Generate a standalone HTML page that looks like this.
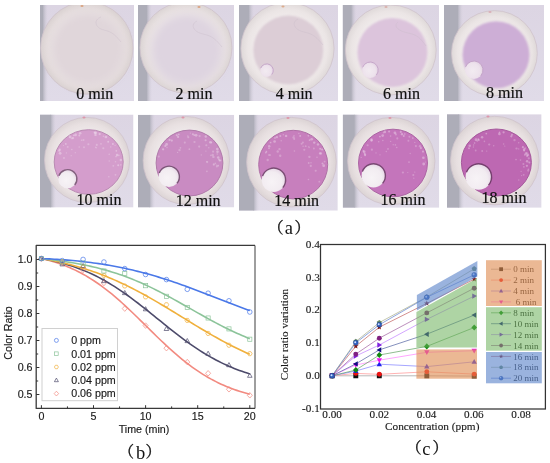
<!DOCTYPE html>
<html><head><meta charset="utf-8"><style>
html,body{margin:0;padding:0;background:#fff;}
body{width:550px;height:463px;overflow:hidden;}
svg{display:block;}
.pl{font-family:"Liberation Serif","Noto Serif CJK SC",serif;font-size:16px;fill:#111;stroke:#111;stroke-width:0.2px;}
.tb{font-family:"Liberation Sans",sans-serif;font-size:10.7px;fill:#1a1a1a;stroke:#1a1a1a;stroke-width:0.15px;}
.tc{font-family:"Liberation Serif",serif;font-size:11.2px;fill:#1a1a1a;stroke:#1a1a1a;stroke-width:0.12px;}
.tl{font-family:"Liberation Serif",serif;font-size:9px;fill:#222;}
.capp{font-family:"Liberation Serif","Noto Serif CJK SC",serif;font-size:15.6px;fill:#111;stroke:#111;stroke-width:0.35px;}
.capl{font-family:"Liberation Serif",serif;font-size:18.5px;fill:#111;}
</style></head><body>
<svg width="550" height="463" viewBox="0 0 550 463">
<defs>
<linearGradient id="stripe" x1="0" x2="1" y1="0" y2="0"><stop offset="0" stop-color="#adadb8"/><stop offset="1" stop-color="#dcd6e4" stop-opacity="0"/></linearGradient>
<linearGradient id="bgv" x1="0" x2="0" y1="0" y2="1"><stop offset="0" stop-color="#dcd5e3"/><stop offset="1" stop-color="#e0dbe8"/></linearGradient>
<radialGradient id="bubt" cx="0.42" cy="0.55" r="0.6"><stop offset="0" stop-color="#f2ebf1"/><stop offset="0.7" stop-color="#ede2ec"/><stop offset="1" stop-color="#e2d0e2"/></radialGradient>
<radialGradient id="bubg" cx="0.42" cy="0.58" r="0.6"><stop offset="0" stop-color="#f7f3f6"/><stop offset="0.7" stop-color="#f2ecf1"/><stop offset="1" stop-color="#e6d6e6"/></radialGradient>
<filter id="bl3" x="-100%" y="-100%" width="300%" height="300%"><feGaussianBlur stdDeviation="0.4"/></filter>
<filter id="bl4" x="-20%" y="-20%" width="140%" height="140%"><feGaussianBlur stdDeviation="1.1"/></filter>
<filter id="bl2" x="-20%" y="-20%" width="140%" height="140%"><feGaussianBlur stdDeviation="4"/></filter>
<filter id="bl" x="-5%" y="-5%" width="110%" height="110%"><feGaussianBlur stdDeviation="0.55"/></filter>
<clipPath id="cp0"><rect x="40" y="5" width="94.0" height="96.0"/></clipPath>
<clipPath id="cp1"><rect x="138" y="5" width="96.0" height="96.0"/></clipPath>
<clipPath id="cp2"><rect x="239" y="5" width="99.0" height="96.0"/></clipPath>
<clipPath id="cp3"><rect x="342.6" y="5" width="96.4" height="96.0"/></clipPath>
<clipPath id="cp4"><rect x="444" y="5" width="100.0" height="96.0"/></clipPath>
<clipPath id="cp5"><rect x="40" y="114.5" width="93.5" height="93.1"/></clipPath>
<clipPath id="cp6"><rect x="138" y="114.8" width="96.2" height="92.7"/></clipPath>
<clipPath id="cp7"><rect x="239" y="114.8" width="98.8" height="95.9"/></clipPath>
<clipPath id="cp8"><rect x="342.7" y="114.5" width="96.6" height="93.3"/></clipPath>
<clipPath id="cp9"><rect x="447" y="114.2" width="94.6" height="93.6"/></clipPath>
</defs>
<g clip-path="url(#cp0)">
<rect x="40" y="5" width="94.0" height="96.0" fill="url(#bgv)"/>
<rect x="40" y="5" width="3" height="96.0" fill="#adadb8"/>
<rect x="42.5" y="5" width="6" height="96.0" fill="url(#stripe)"/>
<g filter="url(#bl)">
<radialGradient id="rg0" cx="0.5" cy="0.5" r="0.5"><stop offset="0.7" stop-color="#ebe5e5"/><stop offset="0.86" stop-color="#e5dddd"/><stop offset="1" stop-color="#d9d1d1"/></radialGradient>
<ellipse cx="86.8" cy="48" rx="46.2" ry="46.2" fill="url(#rg0)" stroke="#cfc3cc" stroke-width="0.8"/>
<ellipse cx="88" cy="49" rx="37" ry="37" fill="#e0d6da" filter="url(#bl2)"/>
</g>
<g filter="url(#bl)">
</g>
<path d="M101,17 C93,20 95,28 104,30 S116,36 121,42" fill="none" stroke="#c9bcc8" stroke-width="0.7" opacity="0.55" filter="url(#bl3)"/>
<ellipse cx="82" cy="6" rx="1.6" ry="1" fill="#d9996e" opacity="0.8" filter="url(#bl3)"/>
<text x="76.3" y="98.6" class="pl">0 min</text>
</g>
<g clip-path="url(#cp1)">
<rect x="138" y="5" width="96.0" height="96.0" fill="url(#bgv)"/>
<rect x="138" y="5" width="9" height="96.0" fill="#adadb8"/>
<rect x="146.5" y="5" width="6" height="96.0" fill="url(#stripe)"/>
<g filter="url(#bl)">
<radialGradient id="rg1" cx="0.5" cy="0.5" r="0.5"><stop offset="0.7" stop-color="#ede7e7"/><stop offset="0.86" stop-color="#e7e0e0"/><stop offset="1" stop-color="#dbd4d4"/></radialGradient>
<ellipse cx="186" cy="47.6" rx="46" ry="45.5" fill="url(#rg1)" stroke="#cfc3cc" stroke-width="0.8"/>
<ellipse cx="187" cy="50" rx="36" ry="36" fill="#ded4e0" filter="url(#bl2)"/>
</g>
<g filter="url(#bl)">
</g>
<path d="M197,21 C190,24 193,32 203,34 S216,40 222,47" fill="none" stroke="#c9bcc8" stroke-width="0.7" opacity="0.55" filter="url(#bl3)"/>
<ellipse cx="199" cy="7" rx="1.6" ry="1" fill="#d9996e" opacity="0.8" filter="url(#bl3)"/>
<text x="175.5" y="98.9" class="pl">2 min</text>
</g>
<g clip-path="url(#cp2)">
<rect x="239" y="5" width="99.0" height="96.0" fill="url(#bgv)"/>
<rect x="239" y="5" width="10" height="96.0" fill="#adadb8"/>
<rect x="248.5" y="5" width="6" height="96.0" fill="url(#stripe)"/>
<g filter="url(#bl)">
<radialGradient id="rg2" cx="0.5" cy="0.5" r="0.5"><stop offset="0.7" stop-color="#f0ebeb"/><stop offset="0.86" stop-color="#ebe5e5"/><stop offset="1" stop-color="#dfd9d9"/></radialGradient>
<ellipse cx="287.5" cy="48.5" rx="46.6" ry="46" fill="url(#rg2)" stroke="#cfc3cc" stroke-width="0.8"/>
<ellipse cx="288.3" cy="50" rx="35" ry="34.5" fill="#dccdd6" filter="url(#bl4)"/>
</g>
<g filter="url(#bl)">
<circle cx="266.8" cy="70.4" r="6.5" fill="url(#bubt)"/>
<path d="M260.69,68.18 A6.5,6.5 0 1 1 271.78,74.58" fill="none" stroke="#c2a2c6" stroke-width="0.9"/>
</g>
<path d="M298,19 C291,22 294,30 304,32 S317,38 323,45" fill="none" stroke="#c9bcc8" stroke-width="0.7" opacity="0.55" filter="url(#bl3)"/>
<ellipse cx="283" cy="6.5" rx="1.6" ry="1" fill="#d9a07a" opacity="0.8" filter="url(#bl3)"/>
<text x="275.7" y="98.6" class="pl">4 min</text>
</g>
<g clip-path="url(#cp3)">
<rect x="342.6" y="5" width="96.4" height="96.0" fill="url(#bgv)"/>
<rect x="342.6" y="5" width="9" height="96.0" fill="#adadb8"/>
<rect x="351.1" y="5" width="6" height="96.0" fill="url(#stripe)"/>
<g filter="url(#bl)">
<radialGradient id="rg3" cx="0.5" cy="0.5" r="0.5"><stop offset="0.7" stop-color="#f0ebeb"/><stop offset="0.86" stop-color="#ebe5e5"/><stop offset="1" stop-color="#dfd9d9"/></radialGradient>
<ellipse cx="390.8" cy="50" rx="45.4" ry="45" fill="url(#rg3)" stroke="#cfc3cc" stroke-width="0.8"/>
<ellipse cx="392.4" cy="52.5" rx="35" ry="34.5" fill="#dcc4dc" filter="url(#bl4)"/>
</g>
<g filter="url(#bl)">
<circle cx="370.2" cy="70" r="8" fill="url(#bubt)"/>
<path d="M362.68,67.26 A8,8 0 1 1 376.33,75.14" fill="none" stroke="#c2a2c6" stroke-width="0.9"/>
</g>
<path d="M398,22 C393,26 398,31 408,33 S420,38 426,46" fill="none" stroke="#c9bcc8" stroke-width="0.7" opacity="0.55" filter="url(#bl3)"/>
<ellipse cx="386" cy="7" rx="1.6" ry="1" fill="#d9a7a0" opacity="0.8" filter="url(#bl3)"/>
<text x="383" y="98.6" class="pl">6 min</text>
</g>
<g clip-path="url(#cp4)">
<rect x="444" y="5" width="100.0" height="96.0" fill="url(#bgv)"/>
<rect x="444" y="5" width="14" height="96.0" fill="#adadb8"/>
<rect x="457.5" y="5" width="6" height="96.0" fill="url(#stripe)"/>
<g filter="url(#bl)">
<radialGradient id="rg4" cx="0.5" cy="0.5" r="0.5"><stop offset="0.7" stop-color="#f0ebeb"/><stop offset="0.86" stop-color="#ebe5e5"/><stop offset="1" stop-color="#dfd9d9"/></radialGradient>
<ellipse cx="494.4" cy="53.3" rx="42.9" ry="42.7" fill="url(#rg4)" stroke="#cfc3cc" stroke-width="0.8"/>
<ellipse cx="496" cy="54.8" rx="33.5" ry="33.5" fill="#cdaed6" filter="url(#bl4)"/>
</g>
<g filter="url(#bl)">
<circle cx="474" cy="70" r="9" fill="url(#bubt)"/>
<path d="M465.54,66.92 A9,9 0 1 1 480.89,75.79" fill="none" stroke="#c2a2c6" stroke-width="0.9"/>
</g>
<ellipse cx="490" cy="12" rx="1.6" ry="1" fill="#d9a7b0" opacity="0.8" filter="url(#bl3)"/>
<text x="486" y="98.0" class="pl">8 min</text>
</g>
<g clip-path="url(#cp5)">
<rect x="40" y="114.5" width="93.5" height="93.1" fill="url(#bgv)"/>
<rect x="40" y="114.5" width="11" height="93.1" fill="#adadb8"/>
<rect x="50.5" y="114.5" width="6" height="93.1" fill="url(#stripe)"/>
<g filter="url(#bl)">
<radialGradient id="rg5" cx="0.5" cy="0.5" r="0.5"><stop offset="0.7" stop-color="#ede7e8"/><stop offset="0.86" stop-color="#e8e0e1"/><stop offset="1" stop-color="#dcd4d5"/></radialGradient>
<ellipse cx="87.1" cy="160" rx="42.6" ry="42.6" fill="url(#rg5)" stroke="#cfc3cc" stroke-width="0.8"/>
<ellipse cx="88.7" cy="162" rx="34.5" ry="32.3" fill="#d49dcc" stroke="#ba8ab3" stroke-width="1"/>
</g>
<circle cx="96.8" cy="144.9" r="1.03" fill="#e7c9e2" opacity="0.55" filter="url(#bl3)"/>
<circle cx="115.1" cy="145.4" r="0.62" fill="#e7c9e2" opacity="0.55" filter="url(#bl3)"/>
<circle cx="113.3" cy="165.8" r="0.86" fill="#e7c9e2" opacity="0.55" filter="url(#bl3)"/>
<circle cx="95.6" cy="147.2" r="0.64" fill="#e7c9e2" opacity="0.55" filter="url(#bl3)"/>
<circle cx="116.0" cy="156.5" r="0.84" fill="#e7c9e2" opacity="0.55" filter="url(#bl3)"/>
<circle cx="101.0" cy="143.8" r="0.84" fill="#e7c9e2" opacity="0.55" filter="url(#bl3)"/>
<circle cx="71.8" cy="138.4" r="0.91" fill="#e7c9e2" opacity="0.55" filter="url(#bl3)"/>
<circle cx="110.7" cy="146.9" r="0.72" fill="#e7c9e2" opacity="0.55" filter="url(#bl3)"/>
<circle cx="67.7" cy="146.9" r="0.92" fill="#e7c9e2" opacity="0.55" filter="url(#bl3)"/>
<circle cx="109.2" cy="154.3" r="0.77" fill="#e7c9e2" opacity="0.55" filter="url(#bl3)"/>
<circle cx="109.2" cy="161.0" r="0.68" fill="#e7c9e2" opacity="0.55" filter="url(#bl3)"/>
<circle cx="84.0" cy="147.3" r="0.93" fill="#e7c9e2" opacity="0.55" filter="url(#bl3)"/>
<circle cx="115.5" cy="174.8" r="0.88" fill="#e7c9e2" opacity="0.55" filter="url(#bl3)"/>
<circle cx="108.8" cy="176.8" r="0.81" fill="#e7c9e2" opacity="0.55" filter="url(#bl3)"/>
<circle cx="103.4" cy="136.3" r="0.74" fill="#e7c9e2" opacity="0.55" filter="url(#bl3)"/>
<circle cx="88.4" cy="144.2" r="1.04" fill="#e7c9e2" opacity="0.55" filter="url(#bl3)"/>
<circle cx="71.2" cy="155.7" r="0.64" fill="#e7c9e2" opacity="0.55" filter="url(#bl3)"/>
<circle cx="79.2" cy="147.0" r="0.73" fill="#e7c9e2" opacity="0.55" filter="url(#bl3)"/>
<circle cx="115.5" cy="161.8" r="0.77" fill="#e7c9e2" opacity="0.55" filter="url(#bl3)"/>
<circle cx="66.4" cy="152.9" r="0.62" fill="#e7c9e2" opacity="0.55" filter="url(#bl3)"/>
<circle cx="120.8" cy="164.9" r="0.82" fill="#e7c9e2" opacity="0.55" filter="url(#bl3)"/>
<circle cx="103.3" cy="148.2" r="1.06" fill="#e7c9e2" opacity="0.55" filter="url(#bl3)"/>
<circle cx="64.0" cy="158.0" r="0.97" fill="#e7c9e2" opacity="0.55" filter="url(#bl3)"/>
<circle cx="96.2" cy="147.8" r="0.74" fill="#e7c9e2" opacity="0.55" filter="url(#bl3)"/>
<circle cx="71.8" cy="149.5" r="0.83" fill="#e7c9e2" opacity="0.55" filter="url(#bl3)"/>
<circle cx="83.5" cy="139.9" r="1.02" fill="#e7c9e2" opacity="0.55" filter="url(#bl3)"/>
<circle cx="81.6" cy="140.2" r="0.82" fill="#e7c9e2" opacity="0.55" filter="url(#bl3)"/>
<circle cx="75.3" cy="152.7" r="0.62" fill="#e7c9e2" opacity="0.55" filter="url(#bl3)"/>
<circle cx="63.4" cy="145.5" r="0.61" fill="#e7c9e2" opacity="0.55" filter="url(#bl3)"/>
<circle cx="118.8" cy="155.3" r="0.91" fill="#e7c9e2" opacity="0.55" filter="url(#bl3)"/>
<circle cx="59.8" cy="149.5" r="1.05" fill="#ebd2e8" opacity="0.6" filter="url(#bl3)"/>
<circle cx="94.4" cy="132.2" r="0.82" fill="#ebd2e8" opacity="0.6" filter="url(#bl3)"/>
<circle cx="75.6" cy="134.9" r="1.30" fill="#ebd2e8" opacity="0.6" filter="url(#bl3)"/>
<circle cx="118.2" cy="165.2" r="1.00" fill="#ebd2e8" opacity="0.6" filter="url(#bl3)"/>
<circle cx="70.1" cy="136.9" r="1.37" fill="#ebd2e8" opacity="0.6" filter="url(#bl3)"/>
<circle cx="116.3" cy="150.8" r="0.86" fill="#ebd2e8" opacity="0.6" filter="url(#bl3)"/>
<circle cx="112.9" cy="143.9" r="0.99" fill="#ebd2e8" opacity="0.6" filter="url(#bl3)"/>
<circle cx="120.8" cy="160.0" r="1.17" fill="#ebd2e8" opacity="0.6" filter="url(#bl3)"/>
<circle cx="95.1" cy="133.0" r="1.36" fill="#ebd2e8" opacity="0.6" filter="url(#bl3)"/>
<circle cx="65.8" cy="143.9" r="0.86" fill="#ebd2e8" opacity="0.6" filter="url(#bl3)"/>
<circle cx="60.1" cy="153.3" r="1.39" fill="#ebd2e8" opacity="0.6" filter="url(#bl3)"/>
<circle cx="95.8" cy="132.7" r="1.21" fill="#ebd2e8" opacity="0.6" filter="url(#bl3)"/>
<circle cx="105.9" cy="137.0" r="1.33" fill="#ebd2e8" opacity="0.6" filter="url(#bl3)"/>
<circle cx="73.8" cy="135.4" r="0.81" fill="#ebd2e8" opacity="0.6" filter="url(#bl3)"/>
<circle cx="73.0" cy="138.1" r="1.16" fill="#ebd2e8" opacity="0.6" filter="url(#bl3)"/>
<circle cx="108.2" cy="141.7" r="0.96" fill="#ebd2e8" opacity="0.6" filter="url(#bl3)"/>
<circle cx="95.5" cy="134.9" r="1.17" fill="#ebd2e8" opacity="0.6" filter="url(#bl3)"/>
<circle cx="117.1" cy="155.0" r="1.19" fill="#ebd2e8" opacity="0.6" filter="url(#bl3)"/>
<circle cx="80.2" cy="133.2" r="1.28" fill="#ebd2e8" opacity="0.6" filter="url(#bl3)"/>
<circle cx="99.7" cy="134.1" r="1.14" fill="#ebd2e8" opacity="0.6" filter="url(#bl3)"/>
<circle cx="59.3" cy="150.6" r="1.18" fill="#ebd2e8" opacity="0.6" filter="url(#bl3)"/>
<circle cx="79.3" cy="135.5" r="0.89" fill="#ebd2e8" opacity="0.6" filter="url(#bl3)"/>
<g filter="url(#bl)">
<circle cx="67.6" cy="179" r="9.3" fill="url(#bubg)"/>
<path d="M58.86,175.82 A9.3,9.3 0 1 1 74.72,184.98" fill="none" stroke="#83617e" stroke-width="1.4"/>
</g>
<ellipse cx="84" cy="117.5" rx="1.6" ry="1" fill="#e08aa0" opacity="0.8" filter="url(#bl3)"/>
<text x="76.6" y="204.6" class="pl">10 min</text>
</g>
<g clip-path="url(#cp6)">
<rect x="138" y="114.8" width="96.2" height="92.7" fill="url(#bgv)"/>
<rect x="138" y="114.8" width="12" height="92.7" fill="#adadb8"/>
<rect x="149.5" y="114.8" width="6" height="92.7" fill="url(#stripe)"/>
<g filter="url(#bl)">
<radialGradient id="rg6" cx="0.5" cy="0.5" r="0.5"><stop offset="0.7" stop-color="#ede7e8"/><stop offset="0.86" stop-color="#e8e0e1"/><stop offset="1" stop-color="#dcd4d5"/></radialGradient>
<ellipse cx="186.3" cy="160.5" rx="43.2" ry="44" fill="url(#rg6)" stroke="#cfc3cc" stroke-width="0.8"/>
<ellipse cx="189.5" cy="163" rx="33.4" ry="32.9" fill="#c98bc2" stroke="#b07aaa" stroke-width="1"/>
</g>
<circle cx="206.3" cy="145.2" r="1.06" fill="#e1bfdd" opacity="0.55" filter="url(#bl3)"/>
<circle cx="213.8" cy="164.8" r="1.07" fill="#e1bfdd" opacity="0.55" filter="url(#bl3)"/>
<circle cx="215.3" cy="163.4" r="0.85" fill="#e1bfdd" opacity="0.55" filter="url(#bl3)"/>
<circle cx="213.1" cy="151.6" r="1.10" fill="#e1bfdd" opacity="0.55" filter="url(#bl3)"/>
<circle cx="213.4" cy="156.9" r="1.18" fill="#e1bfdd" opacity="0.55" filter="url(#bl3)"/>
<circle cx="199.6" cy="136.1" r="1.12" fill="#e1bfdd" opacity="0.55" filter="url(#bl3)"/>
<circle cx="201.3" cy="154.9" r="0.63" fill="#e1bfdd" opacity="0.55" filter="url(#bl3)"/>
<circle cx="167.0" cy="147.5" r="0.63" fill="#e1bfdd" opacity="0.55" filter="url(#bl3)"/>
<circle cx="210.9" cy="155.4" r="0.82" fill="#e1bfdd" opacity="0.55" filter="url(#bl3)"/>
<circle cx="177.6" cy="152.4" r="0.68" fill="#e1bfdd" opacity="0.55" filter="url(#bl3)"/>
<circle cx="207.2" cy="162.1" r="1.03" fill="#e1bfdd" opacity="0.55" filter="url(#bl3)"/>
<circle cx="212.7" cy="155.0" r="1.18" fill="#e1bfdd" opacity="0.55" filter="url(#bl3)"/>
<circle cx="189.4" cy="149.2" r="0.90" fill="#e1bfdd" opacity="0.55" filter="url(#bl3)"/>
<circle cx="179.5" cy="150.1" r="1.20" fill="#e1bfdd" opacity="0.55" filter="url(#bl3)"/>
<circle cx="187.8" cy="136.1" r="0.73" fill="#e1bfdd" opacity="0.55" filter="url(#bl3)"/>
<circle cx="158.8" cy="156.6" r="1.03" fill="#e1bfdd" opacity="0.55" filter="url(#bl3)"/>
<circle cx="217.2" cy="154.0" r="0.79" fill="#e1bfdd" opacity="0.55" filter="url(#bl3)"/>
<circle cx="194.5" cy="142.0" r="1.12" fill="#e1bfdd" opacity="0.55" filter="url(#bl3)"/>
<circle cx="184.8" cy="142.6" r="1.05" fill="#e1bfdd" opacity="0.55" filter="url(#bl3)"/>
<circle cx="208.8" cy="147.8" r="0.68" fill="#e1bfdd" opacity="0.55" filter="url(#bl3)"/>
<circle cx="190.4" cy="133.1" r="0.66" fill="#e1bfdd" opacity="0.55" filter="url(#bl3)"/>
<circle cx="216.5" cy="165.1" r="0.67" fill="#e1bfdd" opacity="0.55" filter="url(#bl3)"/>
<circle cx="213.7" cy="164.0" r="0.85" fill="#e1bfdd" opacity="0.55" filter="url(#bl3)"/>
<circle cx="205.9" cy="151.1" r="0.65" fill="#e1bfdd" opacity="0.55" filter="url(#bl3)"/>
<circle cx="180.4" cy="147.8" r="0.85" fill="#e1bfdd" opacity="0.55" filter="url(#bl3)"/>
<circle cx="199.2" cy="146.6" r="1.07" fill="#e1bfdd" opacity="0.55" filter="url(#bl3)"/>
<circle cx="188.3" cy="137.3" r="1.02" fill="#e1bfdd" opacity="0.55" filter="url(#bl3)"/>
<circle cx="206.8" cy="161.8" r="0.79" fill="#e1bfdd" opacity="0.55" filter="url(#bl3)"/>
<circle cx="216.8" cy="166.5" r="0.91" fill="#e1bfdd" opacity="0.55" filter="url(#bl3)"/>
<circle cx="206.9" cy="171.3" r="0.87" fill="#e1bfdd" opacity="0.55" filter="url(#bl3)"/>
<circle cx="194.3" cy="135.1" r="0.93" fill="#e6cae3" opacity="0.6" filter="url(#bl3)"/>
<circle cx="205.6" cy="140.3" r="1.04" fill="#e6cae3" opacity="0.6" filter="url(#bl3)"/>
<circle cx="176.8" cy="135.3" r="1.07" fill="#e6cae3" opacity="0.6" filter="url(#bl3)"/>
<circle cx="220.5" cy="160.4" r="0.92" fill="#e6cae3" opacity="0.6" filter="url(#bl3)"/>
<circle cx="219.6" cy="160.6" r="0.87" fill="#e6cae3" opacity="0.6" filter="url(#bl3)"/>
<circle cx="165.3" cy="146.0" r="1.09" fill="#e6cae3" opacity="0.6" filter="url(#bl3)"/>
<circle cx="218.1" cy="165.7" r="0.89" fill="#e6cae3" opacity="0.6" filter="url(#bl3)"/>
<circle cx="211.3" cy="142.5" r="0.88" fill="#e6cae3" opacity="0.6" filter="url(#bl3)"/>
<circle cx="178.1" cy="136.9" r="1.10" fill="#e6cae3" opacity="0.6" filter="url(#bl3)"/>
<circle cx="169.6" cy="139.9" r="1.10" fill="#e6cae3" opacity="0.6" filter="url(#bl3)"/>
<circle cx="163.1" cy="149.3" r="1.15" fill="#e6cae3" opacity="0.6" filter="url(#bl3)"/>
<circle cx="196.1" cy="135.3" r="1.36" fill="#e6cae3" opacity="0.6" filter="url(#bl3)"/>
<circle cx="171.8" cy="140.6" r="1.06" fill="#e6cae3" opacity="0.6" filter="url(#bl3)"/>
<circle cx="178.8" cy="134.4" r="0.86" fill="#e6cae3" opacity="0.6" filter="url(#bl3)"/>
<circle cx="217.5" cy="151.7" r="1.29" fill="#e6cae3" opacity="0.6" filter="url(#bl3)"/>
<circle cx="166.6" cy="144.4" r="1.34" fill="#e6cae3" opacity="0.6" filter="url(#bl3)"/>
<circle cx="218.2" cy="157.5" r="1.27" fill="#e6cae3" opacity="0.6" filter="url(#bl3)"/>
<circle cx="210.3" cy="142.3" r="1.25" fill="#e6cae3" opacity="0.6" filter="url(#bl3)"/>
<circle cx="192.9" cy="134.3" r="1.02" fill="#e6cae3" opacity="0.6" filter="url(#bl3)"/>
<circle cx="219.0" cy="159.5" r="0.93" fill="#e6cae3" opacity="0.6" filter="url(#bl3)"/>
<circle cx="205.8" cy="136.5" r="1.17" fill="#e6cae3" opacity="0.6" filter="url(#bl3)"/>
<circle cx="217.3" cy="149.0" r="1.33" fill="#e6cae3" opacity="0.6" filter="url(#bl3)"/>
<g filter="url(#bl)">
<circle cx="169" cy="176.6" r="10.4" fill="url(#bubg)"/>
<path d="M159.23,173.04 A10.4,10.4 0 1 1 176.97,183.28" fill="none" stroke="#7c5678" stroke-width="1.4"/>
</g>
<ellipse cx="183" cy="117.5" rx="1.6" ry="1" fill="#e08aa0" opacity="0.8" filter="url(#bl3)"/>
<text x="175.7" y="206" class="pl">12 min</text>
</g>
<g clip-path="url(#cp7)">
<rect x="239" y="114.8" width="98.8" height="95.9" fill="url(#bgv)"/>
<rect x="239" y="114.8" width="15" height="95.9" fill="#adadb8"/>
<rect x="253.5" y="114.8" width="6" height="95.9" fill="url(#stripe)"/>
<g filter="url(#bl)">
<radialGradient id="rg7" cx="0.5" cy="0.5" r="0.5"><stop offset="0.7" stop-color="#ede7e7"/><stop offset="0.86" stop-color="#e7dfe0"/><stop offset="1" stop-color="#dbd3d4"/></radialGradient>
<ellipse cx="291.5" cy="162.2" rx="44.8" ry="44.8" fill="url(#rg7)" stroke="#cfc3cc" stroke-width="0.8"/>
<ellipse cx="293.2" cy="164.6" rx="34.5" ry="34.3" fill="#c77fbd" stroke="#af6fa6" stroke-width="1"/>
</g>
<circle cx="313.9" cy="148.5" r="0.91" fill="#e0b8da" opacity="0.55" filter="url(#bl3)"/>
<circle cx="267.7" cy="160.0" r="1.18" fill="#e0b8da" opacity="0.55" filter="url(#bl3)"/>
<circle cx="294.4" cy="150.9" r="0.75" fill="#e0b8da" opacity="0.55" filter="url(#bl3)"/>
<circle cx="319.3" cy="181.7" r="0.88" fill="#e0b8da" opacity="0.55" filter="url(#bl3)"/>
<circle cx="280.2" cy="155.8" r="1.19" fill="#e0b8da" opacity="0.55" filter="url(#bl3)"/>
<circle cx="270.3" cy="155.0" r="0.85" fill="#e0b8da" opacity="0.55" filter="url(#bl3)"/>
<circle cx="308.7" cy="163.0" r="0.90" fill="#e0b8da" opacity="0.55" filter="url(#bl3)"/>
<circle cx="315.7" cy="170.7" r="1.07" fill="#e0b8da" opacity="0.55" filter="url(#bl3)"/>
<circle cx="304.3" cy="149.8" r="1.06" fill="#e0b8da" opacity="0.55" filter="url(#bl3)"/>
<circle cx="281.2" cy="140.8" r="0.77" fill="#e0b8da" opacity="0.55" filter="url(#bl3)"/>
<circle cx="308.5" cy="179.5" r="0.79" fill="#e0b8da" opacity="0.55" filter="url(#bl3)"/>
<circle cx="301.6" cy="143.7" r="1.00" fill="#e0b8da" opacity="0.55" filter="url(#bl3)"/>
<circle cx="309.1" cy="147.5" r="0.70" fill="#e0b8da" opacity="0.55" filter="url(#bl3)"/>
<circle cx="277.7" cy="151.5" r="1.18" fill="#e0b8da" opacity="0.55" filter="url(#bl3)"/>
<circle cx="302.9" cy="142.5" r="0.99" fill="#e0b8da" opacity="0.55" filter="url(#bl3)"/>
<circle cx="293.6" cy="137.4" r="1.19" fill="#e0b8da" opacity="0.55" filter="url(#bl3)"/>
<circle cx="305.7" cy="146.2" r="0.91" fill="#e0b8da" opacity="0.55" filter="url(#bl3)"/>
<circle cx="303.1" cy="146.2" r="0.71" fill="#e0b8da" opacity="0.55" filter="url(#bl3)"/>
<circle cx="317.0" cy="157.3" r="0.75" fill="#e0b8da" opacity="0.55" filter="url(#bl3)"/>
<circle cx="324.6" cy="161.6" r="0.95" fill="#e0b8da" opacity="0.55" filter="url(#bl3)"/>
<circle cx="269.1" cy="155.1" r="0.99" fill="#e0b8da" opacity="0.55" filter="url(#bl3)"/>
<circle cx="310.8" cy="165.9" r="1.12" fill="#e0b8da" opacity="0.55" filter="url(#bl3)"/>
<circle cx="308.8" cy="146.6" r="0.61" fill="#e0b8da" opacity="0.55" filter="url(#bl3)"/>
<circle cx="279.5" cy="149.2" r="1.16" fill="#e0b8da" opacity="0.55" filter="url(#bl3)"/>
<circle cx="294.2" cy="139.0" r="0.98" fill="#e0b8da" opacity="0.55" filter="url(#bl3)"/>
<circle cx="311.0" cy="162.8" r="0.68" fill="#e0b8da" opacity="0.55" filter="url(#bl3)"/>
<circle cx="309.4" cy="156.8" r="1.17" fill="#e0b8da" opacity="0.55" filter="url(#bl3)"/>
<circle cx="294.0" cy="135.8" r="0.73" fill="#e0b8da" opacity="0.55" filter="url(#bl3)"/>
<circle cx="283.3" cy="134.8" r="0.71" fill="#e0b8da" opacity="0.55" filter="url(#bl3)"/>
<circle cx="298.9" cy="133.6" r="0.74" fill="#e0b8da" opacity="0.55" filter="url(#bl3)"/>
<circle cx="309.6" cy="140.1" r="0.92" fill="#e5c5e1" opacity="0.6" filter="url(#bl3)"/>
<circle cx="275.0" cy="137.9" r="0.86" fill="#e5c5e1" opacity="0.6" filter="url(#bl3)"/>
<circle cx="300.2" cy="135.9" r="0.93" fill="#e5c5e1" opacity="0.6" filter="url(#bl3)"/>
<circle cx="265.8" cy="152.7" r="0.82" fill="#e5c5e1" opacity="0.6" filter="url(#bl3)"/>
<circle cx="269.2" cy="146.2" r="1.20" fill="#e5c5e1" opacity="0.6" filter="url(#bl3)"/>
<circle cx="274.6" cy="141.5" r="1.30" fill="#e5c5e1" opacity="0.6" filter="url(#bl3)"/>
<circle cx="320.2" cy="148.7" r="1.02" fill="#e5c5e1" opacity="0.6" filter="url(#bl3)"/>
<circle cx="276.9" cy="137.1" r="1.18" fill="#e5c5e1" opacity="0.6" filter="url(#bl3)"/>
<circle cx="269.0" cy="148.4" r="0.83" fill="#e5c5e1" opacity="0.6" filter="url(#bl3)"/>
<circle cx="280.3" cy="136.1" r="0.99" fill="#e5c5e1" opacity="0.6" filter="url(#bl3)"/>
<circle cx="323.7" cy="165.7" r="1.38" fill="#e5c5e1" opacity="0.6" filter="url(#bl3)"/>
<circle cx="320.9" cy="153.4" r="1.17" fill="#e5c5e1" opacity="0.6" filter="url(#bl3)"/>
<circle cx="270.6" cy="142.5" r="0.86" fill="#e5c5e1" opacity="0.6" filter="url(#bl3)"/>
<circle cx="318.0" cy="144.4" r="1.20" fill="#e5c5e1" opacity="0.6" filter="url(#bl3)"/>
<circle cx="266.4" cy="151.7" r="0.84" fill="#e5c5e1" opacity="0.6" filter="url(#bl3)"/>
<circle cx="319.9" cy="153.4" r="1.06" fill="#e5c5e1" opacity="0.6" filter="url(#bl3)"/>
<circle cx="286.1" cy="135.9" r="1.22" fill="#e5c5e1" opacity="0.6" filter="url(#bl3)"/>
<circle cx="322.5" cy="163.5" r="1.01" fill="#e5c5e1" opacity="0.6" filter="url(#bl3)"/>
<circle cx="308.3" cy="135.8" r="0.83" fill="#e5c5e1" opacity="0.6" filter="url(#bl3)"/>
<circle cx="314.2" cy="142.6" r="1.19" fill="#e5c5e1" opacity="0.6" filter="url(#bl3)"/>
<circle cx="322.1" cy="149.5" r="1.10" fill="#e5c5e1" opacity="0.6" filter="url(#bl3)"/>
<circle cx="311.7" cy="139.3" r="1.32" fill="#e5c5e1" opacity="0.6" filter="url(#bl3)"/>
<g filter="url(#bl)">
<circle cx="273.7" cy="180" r="11.9" fill="url(#bubg)"/>
<path d="M262.52,175.93 A11.9,11.9 0 1 1 282.82,187.65" fill="none" stroke="#7b4e75" stroke-width="1.4"/>
</g>
<ellipse cx="288" cy="118" rx="1.6" ry="1" fill="#e08aa0" opacity="0.8" filter="url(#bl3)"/>
<text x="274.2" y="206.3" class="pl">14 min</text>
</g>
<g clip-path="url(#cp8)">
<rect x="342.7" y="114.5" width="96.6" height="93.3" fill="url(#bgv)"/>
<rect x="342.7" y="114.5" width="12" height="93.3" fill="#adadb8"/>
<rect x="354.2" y="114.5" width="6" height="93.3" fill="url(#stripe)"/>
<g filter="url(#bl)">
<radialGradient id="rg8" cx="0.5" cy="0.5" r="0.5"><stop offset="0.7" stop-color="#ede7e7"/><stop offset="0.86" stop-color="#e7dfe0"/><stop offset="1" stop-color="#dbd3d4"/></radialGradient>
<ellipse cx="391.3" cy="161.1" rx="43.7" ry="43.7" fill="url(#rg8)" stroke="#cfc3cc" stroke-width="0.8"/>
<ellipse cx="393" cy="163" rx="34.5" ry="33.8" fill="#c474bb" stroke="#ac66a4" stroke-width="1"/>
</g>
<circle cx="414.8" cy="142.4" r="0.67" fill="#deb2d9" opacity="0.55" filter="url(#bl3)"/>
<circle cx="393.2" cy="144.8" r="0.70" fill="#deb2d9" opacity="0.55" filter="url(#bl3)"/>
<circle cx="361.2" cy="157.4" r="0.66" fill="#deb2d9" opacity="0.55" filter="url(#bl3)"/>
<circle cx="413.3" cy="174.9" r="1.02" fill="#deb2d9" opacity="0.55" filter="url(#bl3)"/>
<circle cx="371.9" cy="149.7" r="1.08" fill="#deb2d9" opacity="0.55" filter="url(#bl3)"/>
<circle cx="376.0" cy="152.9" r="0.67" fill="#deb2d9" opacity="0.55" filter="url(#bl3)"/>
<circle cx="390.6" cy="141.4" r="0.71" fill="#deb2d9" opacity="0.55" filter="url(#bl3)"/>
<circle cx="367.6" cy="145.2" r="1.07" fill="#deb2d9" opacity="0.55" filter="url(#bl3)"/>
<circle cx="410.2" cy="153.5" r="0.64" fill="#deb2d9" opacity="0.55" filter="url(#bl3)"/>
<circle cx="420.0" cy="146.2" r="1.17" fill="#deb2d9" opacity="0.55" filter="url(#bl3)"/>
<circle cx="425.6" cy="162.0" r="0.61" fill="#deb2d9" opacity="0.55" filter="url(#bl3)"/>
<circle cx="383.4" cy="132.8" r="0.69" fill="#deb2d9" opacity="0.55" filter="url(#bl3)"/>
<circle cx="409.4" cy="136.7" r="0.98" fill="#deb2d9" opacity="0.55" filter="url(#bl3)"/>
<circle cx="395.4" cy="144.9" r="0.78" fill="#deb2d9" opacity="0.55" filter="url(#bl3)"/>
<circle cx="386.3" cy="151.5" r="0.74" fill="#deb2d9" opacity="0.55" filter="url(#bl3)"/>
<circle cx="415.9" cy="146.1" r="1.06" fill="#deb2d9" opacity="0.55" filter="url(#bl3)"/>
<circle cx="396.7" cy="147.5" r="0.80" fill="#deb2d9" opacity="0.55" filter="url(#bl3)"/>
<circle cx="378.7" cy="141.8" r="0.82" fill="#deb2d9" opacity="0.55" filter="url(#bl3)"/>
<circle cx="397.3" cy="138.4" r="1.05" fill="#deb2d9" opacity="0.55" filter="url(#bl3)"/>
<circle cx="388.0" cy="148.9" r="0.88" fill="#deb2d9" opacity="0.55" filter="url(#bl3)"/>
<circle cx="409.0" cy="162.1" r="0.91" fill="#deb2d9" opacity="0.55" filter="url(#bl3)"/>
<circle cx="407.8" cy="172.5" r="0.60" fill="#deb2d9" opacity="0.55" filter="url(#bl3)"/>
<circle cx="408.4" cy="140.7" r="0.98" fill="#deb2d9" opacity="0.55" filter="url(#bl3)"/>
<circle cx="395.9" cy="134.4" r="1.03" fill="#deb2d9" opacity="0.55" filter="url(#bl3)"/>
<circle cx="382.8" cy="140.5" r="0.83" fill="#deb2d9" opacity="0.55" filter="url(#bl3)"/>
<circle cx="414.8" cy="172.1" r="0.61" fill="#deb2d9" opacity="0.55" filter="url(#bl3)"/>
<circle cx="390.6" cy="136.1" r="0.78" fill="#deb2d9" opacity="0.55" filter="url(#bl3)"/>
<circle cx="413.8" cy="178.2" r="0.64" fill="#deb2d9" opacity="0.55" filter="url(#bl3)"/>
<circle cx="380.0" cy="154.8" r="0.65" fill="#deb2d9" opacity="0.55" filter="url(#bl3)"/>
<circle cx="402.9" cy="172.5" r="1.11" fill="#deb2d9" opacity="0.55" filter="url(#bl3)"/>
<circle cx="400.8" cy="131.9" r="1.05" fill="#e4c0e0" opacity="0.6" filter="url(#bl3)"/>
<circle cx="389.1" cy="131.6" r="1.02" fill="#e4c0e0" opacity="0.6" filter="url(#bl3)"/>
<circle cx="365.1" cy="154.6" r="1.11" fill="#e4c0e0" opacity="0.6" filter="url(#bl3)"/>
<circle cx="402.0" cy="134.2" r="1.17" fill="#e4c0e0" opacity="0.6" filter="url(#bl3)"/>
<circle cx="423.7" cy="164.0" r="1.40" fill="#e4c0e0" opacity="0.6" filter="url(#bl3)"/>
<circle cx="382.7" cy="135.6" r="1.35" fill="#e4c0e0" opacity="0.6" filter="url(#bl3)"/>
<circle cx="384.8" cy="131.9" r="1.29" fill="#e4c0e0" opacity="0.6" filter="url(#bl3)"/>
<circle cx="420.9" cy="148.1" r="1.06" fill="#e4c0e0" opacity="0.6" filter="url(#bl3)"/>
<circle cx="371.6" cy="140.5" r="0.83" fill="#e4c0e0" opacity="0.6" filter="url(#bl3)"/>
<circle cx="394.9" cy="132.8" r="1.35" fill="#e4c0e0" opacity="0.6" filter="url(#bl3)"/>
<circle cx="379.9" cy="136.6" r="0.95" fill="#e4c0e0" opacity="0.6" filter="url(#bl3)"/>
<circle cx="423.4" cy="157.8" r="1.31" fill="#e4c0e0" opacity="0.6" filter="url(#bl3)"/>
<circle cx="363.5" cy="150.9" r="0.94" fill="#e4c0e0" opacity="0.6" filter="url(#bl3)"/>
<circle cx="371.5" cy="140.3" r="1.35" fill="#e4c0e0" opacity="0.6" filter="url(#bl3)"/>
<circle cx="403.8" cy="135.9" r="0.98" fill="#e4c0e0" opacity="0.6" filter="url(#bl3)"/>
<circle cx="412.8" cy="138.0" r="0.84" fill="#e4c0e0" opacity="0.6" filter="url(#bl3)"/>
<circle cx="371.5" cy="139.3" r="1.14" fill="#e4c0e0" opacity="0.6" filter="url(#bl3)"/>
<circle cx="364.2" cy="151.8" r="1.40" fill="#e4c0e0" opacity="0.6" filter="url(#bl3)"/>
<circle cx="404.8" cy="134.0" r="0.81" fill="#e4c0e0" opacity="0.6" filter="url(#bl3)"/>
<circle cx="364.6" cy="153.8" r="0.88" fill="#e4c0e0" opacity="0.6" filter="url(#bl3)"/>
<circle cx="365.1" cy="155.3" r="0.88" fill="#e4c0e0" opacity="0.6" filter="url(#bl3)"/>
<circle cx="423.0" cy="151.6" r="1.06" fill="#e4c0e0" opacity="0.6" filter="url(#bl3)"/>
<g filter="url(#bl)">
<circle cx="373.5" cy="175.7" r="11.9" fill="url(#bubg)"/>
<path d="M362.32,171.63 A11.9,11.9 0 1 1 382.62,183.35" fill="none" stroke="#794773" stroke-width="1.4"/>
</g>
<ellipse cx="390" cy="118" rx="1.6" ry="1" fill="#e08aa0" opacity="0.8" filter="url(#bl3)"/>
<text x="380.5" y="204.5" class="pl">16 min</text>
</g>
<g clip-path="url(#cp9)">
<rect x="447" y="114.2" width="94.6" height="93.6" fill="url(#bgv)"/>
<rect x="447" y="114.2" width="12" height="93.6" fill="#adadb8"/>
<rect x="458.5" y="114.2" width="6" height="93.6" fill="url(#stripe)"/>
<g filter="url(#bl)">
<radialGradient id="rg9" cx="0.5" cy="0.5" r="0.5"><stop offset="0.7" stop-color="#ede7e7"/><stop offset="0.86" stop-color="#e7dfe0"/><stop offset="1" stop-color="#dbd3d4"/></radialGradient>
<ellipse cx="494.8" cy="160.6" rx="44.3" ry="44.3" fill="url(#rg9)" stroke="#cfc3cc" stroke-width="0.8"/>
<ellipse cx="496.4" cy="162.5" rx="35" ry="33.5" fill="#bd67b2" stroke="#a65a9c" stroke-width="1"/>
</g>
<circle cx="521.6" cy="175.6" r="0.64" fill="#daabd4" opacity="0.55" filter="url(#bl3)"/>
<circle cx="516.5" cy="148.5" r="1.11" fill="#daabd4" opacity="0.55" filter="url(#bl3)"/>
<circle cx="475.7" cy="150.5" r="0.88" fill="#daabd4" opacity="0.55" filter="url(#bl3)"/>
<circle cx="523.7" cy="174.8" r="0.92" fill="#daabd4" opacity="0.55" filter="url(#bl3)"/>
<circle cx="473.6" cy="144.9" r="0.74" fill="#daabd4" opacity="0.55" filter="url(#bl3)"/>
<circle cx="493.7" cy="145.7" r="0.75" fill="#daabd4" opacity="0.55" filter="url(#bl3)"/>
<circle cx="503.6" cy="144.0" r="0.75" fill="#daabd4" opacity="0.55" filter="url(#bl3)"/>
<circle cx="518.7" cy="148.9" r="0.66" fill="#daabd4" opacity="0.55" filter="url(#bl3)"/>
<circle cx="525.1" cy="148.3" r="1.00" fill="#daabd4" opacity="0.55" filter="url(#bl3)"/>
<circle cx="516.0" cy="159.5" r="0.87" fill="#daabd4" opacity="0.55" filter="url(#bl3)"/>
<circle cx="528.8" cy="158.3" r="1.10" fill="#daabd4" opacity="0.55" filter="url(#bl3)"/>
<circle cx="523.9" cy="166.8" r="0.90" fill="#daabd4" opacity="0.55" filter="url(#bl3)"/>
<circle cx="527.1" cy="156.2" r="1.12" fill="#daabd4" opacity="0.55" filter="url(#bl3)"/>
<circle cx="504.8" cy="146.1" r="0.61" fill="#daabd4" opacity="0.55" filter="url(#bl3)"/>
<circle cx="528.4" cy="169.3" r="0.80" fill="#daabd4" opacity="0.55" filter="url(#bl3)"/>
<circle cx="473.4" cy="147.0" r="0.67" fill="#daabd4" opacity="0.55" filter="url(#bl3)"/>
<circle cx="486.7" cy="151.1" r="0.70" fill="#daabd4" opacity="0.55" filter="url(#bl3)"/>
<circle cx="520.5" cy="160.1" r="0.83" fill="#daabd4" opacity="0.55" filter="url(#bl3)"/>
<circle cx="521.1" cy="171.4" r="0.61" fill="#daabd4" opacity="0.55" filter="url(#bl3)"/>
<circle cx="518.8" cy="180.0" r="0.72" fill="#daabd4" opacity="0.55" filter="url(#bl3)"/>
<circle cx="482.2" cy="151.0" r="0.95" fill="#daabd4" opacity="0.55" filter="url(#bl3)"/>
<circle cx="518.7" cy="142.7" r="0.76" fill="#daabd4" opacity="0.55" filter="url(#bl3)"/>
<circle cx="527.5" cy="155.5" r="0.88" fill="#daabd4" opacity="0.55" filter="url(#bl3)"/>
<circle cx="526.9" cy="153.0" r="0.89" fill="#daabd4" opacity="0.55" filter="url(#bl3)"/>
<circle cx="484.4" cy="141.4" r="0.78" fill="#daabd4" opacity="0.55" filter="url(#bl3)"/>
<circle cx="528.2" cy="170.6" r="1.11" fill="#daabd4" opacity="0.55" filter="url(#bl3)"/>
<circle cx="523.4" cy="164.0" r="1.01" fill="#daabd4" opacity="0.55" filter="url(#bl3)"/>
<circle cx="489.2" cy="144.5" r="1.10" fill="#daabd4" opacity="0.55" filter="url(#bl3)"/>
<circle cx="514.5" cy="140.1" r="1.18" fill="#daabd4" opacity="0.55" filter="url(#bl3)"/>
<circle cx="477.3" cy="140.9" r="0.88" fill="#daabd4" opacity="0.55" filter="url(#bl3)"/>
<circle cx="469.7" cy="145.8" r="1.24" fill="#e1badc" opacity="0.6" filter="url(#bl3)"/>
<circle cx="524.1" cy="149.5" r="1.21" fill="#e1badc" opacity="0.6" filter="url(#bl3)"/>
<circle cx="503.6" cy="132.3" r="1.11" fill="#e1badc" opacity="0.6" filter="url(#bl3)"/>
<circle cx="476.0" cy="139.7" r="1.39" fill="#e1badc" opacity="0.6" filter="url(#bl3)"/>
<circle cx="474.6" cy="143.0" r="0.82" fill="#e1badc" opacity="0.6" filter="url(#bl3)"/>
<circle cx="482.1" cy="137.2" r="1.21" fill="#e1badc" opacity="0.6" filter="url(#bl3)"/>
<circle cx="478.3" cy="139.1" r="0.91" fill="#e1badc" opacity="0.6" filter="url(#bl3)"/>
<circle cx="511.3" cy="136.3" r="1.09" fill="#e1badc" opacity="0.6" filter="url(#bl3)"/>
<circle cx="522.9" cy="147.2" r="1.08" fill="#e1badc" opacity="0.6" filter="url(#bl3)"/>
<circle cx="529.3" cy="162.6" r="0.98" fill="#e1badc" opacity="0.6" filter="url(#bl3)"/>
<circle cx="499.5" cy="132.3" r="0.80" fill="#e1badc" opacity="0.6" filter="url(#bl3)"/>
<circle cx="478.7" cy="140.0" r="1.09" fill="#e1badc" opacity="0.6" filter="url(#bl3)"/>
<circle cx="499.4" cy="133.9" r="1.29" fill="#e1badc" opacity="0.6" filter="url(#bl3)"/>
<circle cx="525.9" cy="153.5" r="1.22" fill="#e1badc" opacity="0.6" filter="url(#bl3)"/>
<circle cx="527.1" cy="161.3" r="1.25" fill="#e1badc" opacity="0.6" filter="url(#bl3)"/>
<circle cx="469.0" cy="148.3" r="0.93" fill="#e1badc" opacity="0.6" filter="url(#bl3)"/>
<circle cx="524.1" cy="150.4" r="1.01" fill="#e1badc" opacity="0.6" filter="url(#bl3)"/>
<circle cx="527.7" cy="154.8" r="1.33" fill="#e1badc" opacity="0.6" filter="url(#bl3)"/>
<circle cx="486.3" cy="133.6" r="0.88" fill="#e1badc" opacity="0.6" filter="url(#bl3)"/>
<circle cx="526.9" cy="165.8" r="1.12" fill="#e1badc" opacity="0.6" filter="url(#bl3)"/>
<circle cx="524.9" cy="154.8" r="0.91" fill="#e1badc" opacity="0.6" filter="url(#bl3)"/>
<circle cx="512.0" cy="134.7" r="1.00" fill="#e1badc" opacity="0.6" filter="url(#bl3)"/>
<g filter="url(#bl)">
<circle cx="478.6" cy="176.8" r="13" fill="url(#bubg)"/>
<path d="M466.38,172.35 A13,13 0 1 1 488.56,185.16" fill="none" stroke="#753f6e" stroke-width="1.4"/>
</g>
<ellipse cx="488" cy="116.5" rx="1.6" ry="1" fill="#e08aa0" opacity="0.8" filter="url(#bl3)"/>
<text x="481.6" y="203" class="pl">18 min</text>
</g>
<path d="M255,245.4 L255,408.4" stroke="#6a6a6a" stroke-width="1.3" fill="none"/>
<path d="M255,245.4 L36.2,245.4 L36.2,408.4 L255,408.4" stroke="#3a3a3a" stroke-width="1.3" fill="none" stroke-linejoin="round"/>
<line x1="41.40" y1="408.4" x2="41.40" y2="405.2" stroke="#333" stroke-width="1"/>
<line x1="67.45" y1="408.4" x2="67.45" y2="406.4" stroke="#333" stroke-width="1"/>
<line x1="93.50" y1="408.4" x2="93.50" y2="405.2" stroke="#333" stroke-width="1"/>
<line x1="119.55" y1="408.4" x2="119.55" y2="406.4" stroke="#333" stroke-width="1"/>
<line x1="145.60" y1="408.4" x2="145.60" y2="405.2" stroke="#333" stroke-width="1"/>
<line x1="171.65" y1="408.4" x2="171.65" y2="406.4" stroke="#333" stroke-width="1"/>
<line x1="197.70" y1="408.4" x2="197.70" y2="405.2" stroke="#333" stroke-width="1"/>
<line x1="223.75" y1="408.4" x2="223.75" y2="406.4" stroke="#333" stroke-width="1"/>
<line x1="249.80" y1="408.4" x2="249.80" y2="405.2" stroke="#333" stroke-width="1"/>
<line x1="36.2" y1="394.50" x2="39.400000000000006" y2="394.50" stroke="#333" stroke-width="1"/>
<line x1="36.2" y1="381.00" x2="38.2" y2="381.00" stroke="#333" stroke-width="1"/>
<line x1="36.2" y1="367.50" x2="39.400000000000006" y2="367.50" stroke="#333" stroke-width="1"/>
<line x1="36.2" y1="354.00" x2="38.2" y2="354.00" stroke="#333" stroke-width="1"/>
<line x1="36.2" y1="340.50" x2="39.400000000000006" y2="340.50" stroke="#333" stroke-width="1"/>
<line x1="36.2" y1="327.00" x2="38.2" y2="327.00" stroke="#333" stroke-width="1"/>
<line x1="36.2" y1="313.50" x2="39.400000000000006" y2="313.50" stroke="#333" stroke-width="1"/>
<line x1="36.2" y1="300.00" x2="38.2" y2="300.00" stroke="#333" stroke-width="1"/>
<line x1="36.2" y1="286.50" x2="39.400000000000006" y2="286.50" stroke="#333" stroke-width="1"/>
<line x1="36.2" y1="273.00" x2="38.2" y2="273.00" stroke="#333" stroke-width="1"/>
<line x1="36.2" y1="259.50" x2="39.400000000000006" y2="259.50" stroke="#333" stroke-width="1"/>
<text x="41.40" y="420" class="tb" text-anchor="middle">0</text>
<text x="93.50" y="420" class="tb" text-anchor="middle">5</text>
<text x="145.60" y="420" class="tb" text-anchor="middle">10</text>
<text x="197.70" y="420" class="tb" text-anchor="middle">15</text>
<text x="249.80" y="420" class="tb" text-anchor="middle">20</text>
<text x="32.5" y="398.20" class="tb" text-anchor="end">0.5</text>
<text x="32.5" y="371.20" class="tb" text-anchor="end">0.6</text>
<text x="32.5" y="344.20" class="tb" text-anchor="end">0.7</text>
<text x="32.5" y="317.20" class="tb" text-anchor="end">0.8</text>
<text x="32.5" y="290.20" class="tb" text-anchor="end">0.9</text>
<text x="32.5" y="263.20" class="tb" text-anchor="end">1.0</text>
<text x="144" y="433" class="tb" text-anchor="middle">Time (min)</text>
<text transform="translate(12,333) rotate(-90)" class="tb" text-anchor="middle">Color Ratio</text>
<path d="M41.40,258.60 L44.00,259.18 L46.61,259.81 L49.21,260.49 L51.82,261.22 L54.42,261.99 L57.03,262.82 L59.63,263.70 L62.24,264.63 L64.84,265.62 L67.45,266.66 L70.06,267.76 L72.66,268.92 L75.27,270.15 L77.87,271.43 L80.47,272.78 L83.08,274.19 L85.69,275.66 L88.29,277.20 L90.89,278.81 L93.50,280.48 L96.10,282.22 L98.71,284.02 L101.31,285.89 L103.92,287.82 L106.53,289.82 L109.13,291.88 L111.73,293.99 L114.34,296.16 L116.94,298.39 L119.55,300.67 L122.16,303.00 L124.76,305.37 L127.37,307.79 L129.97,310.24 L132.57,312.72 L135.18,315.23 L137.78,317.77 L140.39,320.32 L143.00,322.88 L145.60,325.45 L148.20,328.02 L150.81,330.59 L153.41,333.15 L156.02,335.70 L158.62,338.22 L161.23,340.72 L163.84,343.19 L166.44,345.63 L169.04,348.02 L171.65,350.38 L174.25,352.69 L176.86,354.95 L179.47,357.15 L182.07,359.30 L184.68,361.40 L187.28,363.43 L189.88,365.40 L192.49,367.31 L195.09,369.16 L197.70,370.95 L200.31,372.67 L202.91,374.32 L205.52,375.91 L208.12,377.44 L210.72,378.91 L213.33,380.31 L215.94,381.65 L218.54,382.93 L221.15,384.16 L223.75,385.33 L226.36,386.44 L228.96,387.50 L231.56,388.51 L234.17,389.47 L236.78,390.37 L239.38,391.24 L241.99,392.06 L244.59,392.83 L247.19,393.57 L249.80,394.26" fill="none" stroke="#f28a80" stroke-width="1.6" stroke-linejoin="round"/>
<path d="M41.40,258.60 L44.00,259.04 L46.61,259.52 L49.21,260.03 L51.82,260.58 L54.42,261.16 L57.03,261.77 L59.63,262.43 L62.24,263.12 L64.84,263.85 L67.45,264.63 L70.06,265.44 L72.66,266.30 L75.27,267.20 L77.87,268.15 L80.47,269.14 L83.08,270.17 L85.69,271.26 L88.29,272.39 L90.89,273.57 L93.50,274.80 L96.10,276.08 L98.71,277.41 L101.31,278.79 L103.92,280.23 L106.53,281.71 L109.13,283.24 L111.73,284.82 L114.34,286.44 L116.94,288.12 L119.55,289.84 L122.16,291.60 L124.76,293.41 L127.37,295.26 L129.97,297.15 L132.57,299.07 L135.18,301.02 L137.78,303.01 L140.39,305.03 L143.00,307.07 L145.60,309.13 L148.20,311.21 L150.81,313.30 L153.41,315.40 L156.02,317.51 L158.62,319.62 L161.23,321.73 L163.84,323.84 L166.44,325.93 L169.04,328.01 L171.65,330.08 L174.25,332.12 L176.86,334.15 L179.47,336.14 L182.07,338.11 L184.68,340.04 L187.28,341.94 L189.88,343.80 L192.49,345.62 L195.09,347.40 L197.70,349.13 L200.31,350.82 L202.91,352.46 L205.52,354.06 L208.12,355.61 L210.72,357.10 L213.33,358.55 L215.94,359.95 L218.54,361.31 L221.15,362.61 L223.75,363.86 L226.36,365.07 L228.96,366.23 L231.56,367.34 L234.17,368.40 L236.78,369.42 L239.38,370.40 L241.99,371.33 L244.59,372.23 L247.19,373.08 L249.80,373.89" fill="none" stroke="#4d4b6b" stroke-width="1.6" stroke-linejoin="round"/>
<path d="M41.40,258.60 L44.00,259.04 L46.61,259.49 L49.21,259.97 L51.82,260.47 L54.42,260.99 L57.03,261.53 L59.63,262.09 L62.24,262.68 L64.84,263.29 L67.45,263.92 L70.06,264.58 L72.66,265.26 L75.27,265.97 L77.87,266.71 L80.47,267.47 L83.08,268.25 L85.69,269.07 L88.29,269.91 L90.89,270.77 L93.50,271.67 L96.10,272.59 L98.71,273.55 L101.31,274.53 L103.92,275.53 L106.53,276.57 L109.13,277.64 L111.73,278.73 L114.34,279.86 L116.94,281.01 L119.55,282.19 L122.16,283.40 L124.76,284.63 L127.37,285.89 L129.97,287.18 L132.57,288.50 L135.18,289.84 L137.78,291.20 L140.39,292.59 L143.00,294.01 L145.60,295.44 L148.20,296.89 L150.81,298.37 L153.41,299.86 L156.02,301.37 L158.62,302.90 L161.23,304.44 L163.84,305.99 L166.44,307.55 L169.04,309.13 L171.65,310.71 L174.25,312.30 L176.86,313.90 L179.47,315.49 L182.07,317.09 L184.68,318.69 L187.28,320.29 L189.88,321.89 L192.49,323.48 L195.09,325.06 L197.70,326.63 L200.31,328.20 L202.91,329.75 L205.52,331.29 L208.12,332.82 L210.72,334.33 L213.33,335.82 L215.94,337.30 L218.54,338.75 L221.15,340.18 L223.75,341.60 L226.36,342.98 L228.96,344.35 L231.56,345.69 L234.17,347.01 L236.78,348.30 L239.38,349.56 L241.99,350.80 L244.59,352.01 L247.19,353.19 L249.80,354.34" fill="none" stroke="#f0b03c" stroke-width="1.6" stroke-linejoin="round"/>
<path d="M41.40,258.60 L44.00,258.88 L46.61,259.17 L49.21,259.47 L51.82,259.78 L54.42,260.10 L57.03,260.44 L59.63,260.79 L62.24,261.16 L64.84,261.54 L67.45,261.93 L70.06,262.34 L72.66,262.77 L75.27,263.22 L77.87,263.69 L80.47,264.18 L83.08,264.69 L85.69,265.22 L88.29,265.78 L90.89,266.36 L93.50,266.96 L96.10,267.58 L98.71,268.24 L101.31,268.91 L103.92,269.62 L106.53,270.35 L109.13,271.12 L111.73,271.91 L114.34,272.73 L116.94,273.57 L119.55,274.45 L122.16,275.36 L124.76,276.30 L127.37,277.28 L129.97,278.28 L132.57,279.31 L135.18,280.38 L137.78,281.47 L140.39,282.60 L143.00,283.75 L145.60,284.93 L148.20,286.15 L150.81,287.39 L153.41,288.65 L156.02,289.95 L158.62,291.26 L161.23,292.60 L163.84,293.97 L166.44,295.35 L169.04,296.75 L171.65,298.17 L174.25,299.60 L176.86,301.05 L179.47,302.50 L182.07,303.97 L184.68,305.44 L187.28,306.92 L189.88,308.40 L192.49,309.88 L195.09,311.36 L197.70,312.84 L200.31,314.31 L202.91,315.77 L205.52,317.22 L208.12,318.66 L210.72,320.08 L213.33,321.49 L215.94,322.88 L218.54,324.25 L221.15,325.60 L223.75,326.92 L226.36,328.22 L228.96,329.50 L231.56,330.75 L234.17,331.97 L236.78,333.17 L239.38,334.33 L241.99,335.47 L244.59,336.58 L247.19,337.65 L249.80,338.69" fill="none" stroke="#8cc49a" stroke-width="1.6" stroke-linejoin="round"/>
<path d="M41.40,258.60 L44.00,258.69 L46.61,258.79 L49.21,258.91 L51.82,259.04 L54.42,259.18 L57.03,259.33 L59.63,259.50 L62.24,259.68 L64.84,259.88 L67.45,260.09 L70.06,260.31 L72.66,260.54 L75.27,260.79 L77.87,261.05 L80.47,261.33 L83.08,261.62 L85.69,261.92 L88.29,262.24 L90.89,262.57 L93.50,262.92 L96.10,263.28 L98.71,263.66 L101.31,264.05 L103.92,264.46 L106.53,264.89 L109.13,265.33 L111.73,265.79 L114.34,266.26 L116.94,266.76 L119.55,267.27 L122.16,267.80 L124.76,268.34 L127.37,268.91 L129.97,269.49 L132.57,270.09 L135.18,270.71 L137.78,271.35 L140.39,272.01 L143.00,272.68 L145.60,273.37 L148.20,274.09 L150.81,274.82 L153.41,275.57 L156.02,276.33 L158.62,277.12 L161.23,277.92 L163.84,278.74 L166.44,279.58 L169.04,280.43 L171.65,281.30 L174.25,282.18 L176.86,283.08 L179.47,284.00 L182.07,284.92 L184.68,285.86 L187.28,286.81 L189.88,287.78 L192.49,288.75 L195.09,289.73 L197.70,290.72 L200.31,291.72 L202.91,292.72 L205.52,293.73 L208.12,294.74 L210.72,295.75 L213.33,296.77 L215.94,297.79 L218.54,298.81 L221.15,299.82 L223.75,300.83 L226.36,301.84 L228.96,302.85 L231.56,303.85 L234.17,304.84 L236.78,305.82 L239.38,306.80 L241.99,307.76 L244.59,308.72 L247.19,309.66 L249.80,310.59" fill="none" stroke="#4a78e8" stroke-width="1.6" stroke-linejoin="round"/>
<polygon points="41.40,255.84 43.93,258.60 41.40,261.36 38.87,258.60" fill="none" stroke="#f28a80" stroke-width="0.7"/>
<polygon points="62.24,259.74 64.77,262.50 62.24,265.26 59.71,262.50" fill="none" stroke="#f28a80" stroke-width="0.7"/>
<polygon points="83.08,267.24 85.61,270.00 83.08,272.76 80.55,270.00" fill="none" stroke="#f28a80" stroke-width="0.7"/>
<polygon points="103.92,280.24 106.45,283.00 103.92,285.76 101.39,283.00" fill="none" stroke="#f28a80" stroke-width="0.7"/>
<polygon points="124.76,305.84 127.29,308.60 124.76,311.36 122.23,308.60" fill="none" stroke="#f28a80" stroke-width="0.7"/>
<polygon points="145.60,322.84 148.13,325.60 145.60,328.36 143.07,325.60" fill="none" stroke="#f28a80" stroke-width="0.7"/>
<polygon points="166.44,345.44 168.97,348.20 166.44,350.96 163.91,348.20" fill="none" stroke="#f28a80" stroke-width="0.7"/>
<polygon points="187.28,359.34 189.81,362.10 187.28,364.86 184.75,362.10" fill="none" stroke="#f28a80" stroke-width="0.7"/>
<polygon points="208.12,370.54 210.65,373.30 208.12,376.06 205.59,373.30" fill="none" stroke="#f28a80" stroke-width="0.7"/>
<polygon points="228.96,386.54 231.49,389.30 228.96,392.06 226.43,389.30" fill="none" stroke="#f28a80" stroke-width="0.7"/>
<polygon points="249.80,392.54 252.33,395.30 249.80,398.06 247.27,395.30" fill="none" stroke="#f28a80" stroke-width="0.7"/>
<polygon points="41.40,256.07 43.70,260.21 39.10,260.21" fill="none" stroke="#4d4b6b" stroke-width="0.7"/>
<polygon points="62.24,261.77 64.54,265.91 59.94,265.91" fill="none" stroke="#4d4b6b" stroke-width="0.7"/>
<polygon points="83.08,263.47 85.38,267.61 80.78,267.61" fill="none" stroke="#4d4b6b" stroke-width="0.7"/>
<polygon points="103.92,278.47 106.22,282.61 101.62,282.61" fill="none" stroke="#4d4b6b" stroke-width="0.7"/>
<polygon points="124.76,290.47 127.06,294.61 122.46,294.61" fill="none" stroke="#4d4b6b" stroke-width="0.7"/>
<polygon points="145.60,306.67 147.90,310.81 143.30,310.81" fill="none" stroke="#4d4b6b" stroke-width="0.7"/>
<polygon points="166.44,326.37 168.74,330.51 164.14,330.51" fill="none" stroke="#4d4b6b" stroke-width="0.7"/>
<polygon points="187.28,338.47 189.58,342.61 184.98,342.61" fill="none" stroke="#4d4b6b" stroke-width="0.7"/>
<polygon points="208.12,351.17 210.42,355.31 205.82,355.31" fill="none" stroke="#4d4b6b" stroke-width="0.7"/>
<polygon points="228.96,362.57 231.26,366.71 226.66,366.71" fill="none" stroke="#4d4b6b" stroke-width="0.7"/>
<polygon points="249.80,373.17 252.10,377.31 247.50,377.31" fill="none" stroke="#4d4b6b" stroke-width="0.7"/>
<polygon points="43.70,258.60 42.55,260.59 40.25,260.59 39.10,258.60 40.25,256.61 42.55,256.61" fill="none" stroke="#f0b03c" stroke-width="0.7"/>
<polygon points="64.54,261.50 63.39,263.49 61.09,263.49 59.94,261.50 61.09,259.51 63.39,259.51" fill="none" stroke="#f0b03c" stroke-width="0.7"/>
<polygon points="85.38,267.00 84.23,268.99 81.93,268.99 80.78,267.00 81.93,265.01 84.23,265.01" fill="none" stroke="#f0b03c" stroke-width="0.7"/>
<polygon points="106.22,275.40 105.07,277.39 102.77,277.39 101.62,275.40 102.77,273.41 105.07,273.41" fill="none" stroke="#f0b03c" stroke-width="0.7"/>
<polygon points="127.06,286.00 125.91,287.99 123.61,287.99 122.46,286.00 123.61,284.01 125.91,284.01" fill="none" stroke="#f0b03c" stroke-width="0.7"/>
<polygon points="147.90,296.90 146.75,298.89 144.45,298.89 143.30,296.90 144.45,294.91 146.75,294.91" fill="none" stroke="#f0b03c" stroke-width="0.7"/>
<polygon points="168.74,304.70 167.59,306.69 165.29,306.69 164.14,304.70 165.29,302.71 167.59,302.71" fill="none" stroke="#f0b03c" stroke-width="0.7"/>
<polygon points="189.58,320.40 188.43,322.39 186.13,322.39 184.98,320.40 186.13,318.41 188.43,318.41" fill="none" stroke="#f0b03c" stroke-width="0.7"/>
<polygon points="210.42,333.40 209.27,335.39 206.97,335.39 205.82,333.40 206.97,331.41 209.27,331.41" fill="none" stroke="#f0b03c" stroke-width="0.7"/>
<polygon points="231.26,345.20 230.11,347.19 227.81,347.19 226.66,345.20 227.81,343.21 230.11,343.21" fill="none" stroke="#f0b03c" stroke-width="0.7"/>
<polygon points="252.10,353.70 250.95,355.69 248.65,355.69 247.50,353.70 248.65,351.71 250.95,351.71" fill="none" stroke="#f0b03c" stroke-width="0.7"/>
<rect x="39.33" y="256.53" width="4.14" height="4.14" fill="none" stroke="#8cc49a" stroke-width="0.7"/>
<rect x="60.17" y="259.93" width="4.14" height="4.14" fill="none" stroke="#8cc49a" stroke-width="0.7"/>
<rect x="81.01" y="260.93" width="4.14" height="4.14" fill="none" stroke="#8cc49a" stroke-width="0.7"/>
<rect x="101.85" y="268.93" width="4.14" height="4.14" fill="none" stroke="#8cc49a" stroke-width="0.7"/>
<rect x="122.69" y="271.33" width="4.14" height="4.14" fill="none" stroke="#8cc49a" stroke-width="0.7"/>
<rect x="143.53" y="283.63" width="4.14" height="4.14" fill="none" stroke="#8cc49a" stroke-width="0.7"/>
<rect x="164.37" y="294.23" width="4.14" height="4.14" fill="none" stroke="#8cc49a" stroke-width="0.7"/>
<rect x="185.21" y="305.33" width="4.14" height="4.14" fill="none" stroke="#8cc49a" stroke-width="0.7"/>
<rect x="206.05" y="315.93" width="4.14" height="4.14" fill="none" stroke="#8cc49a" stroke-width="0.7"/>
<rect x="226.89" y="326.83" width="4.14" height="4.14" fill="none" stroke="#8cc49a" stroke-width="0.7"/>
<rect x="247.73" y="337.13" width="4.14" height="4.14" fill="none" stroke="#8cc49a" stroke-width="0.7"/>
<circle cx="41.40" cy="258.60" r="2.3" fill="none" stroke="#4a78e8" stroke-width="0.7"/>
<circle cx="62.24" cy="260.60" r="2.3" fill="none" stroke="#4a78e8" stroke-width="0.7"/>
<circle cx="83.08" cy="259.40" r="2.3" fill="none" stroke="#4a78e8" stroke-width="0.7"/>
<circle cx="103.92" cy="262.00" r="2.3" fill="none" stroke="#4a78e8" stroke-width="0.7"/>
<circle cx="124.76" cy="268.60" r="2.3" fill="none" stroke="#4a78e8" stroke-width="0.7"/>
<circle cx="145.60" cy="274.50" r="2.3" fill="none" stroke="#4a78e8" stroke-width="0.7"/>
<circle cx="166.44" cy="279.60" r="2.3" fill="none" stroke="#4a78e8" stroke-width="0.7"/>
<circle cx="187.28" cy="289.30" r="2.3" fill="none" stroke="#4a78e8" stroke-width="0.7"/>
<circle cx="208.12" cy="293.20" r="2.3" fill="none" stroke="#4a78e8" stroke-width="0.7"/>
<circle cx="228.96" cy="300.80" r="2.3" fill="none" stroke="#4a78e8" stroke-width="0.7"/>
<circle cx="249.80" cy="312.00" r="2.3" fill="none" stroke="#4a78e8" stroke-width="0.7"/>
<rect x="42" y="328.5" width="75.5" height="72.2" fill="#fff" stroke="#d0d0d0" stroke-width="1"/>
<circle cx="56.40" cy="340.40" r="2.0" fill="none" stroke="#4a78e8" stroke-width="0.7"/>
<text x="71.2" y="344.20" class="tb">0 ppm</text>
<rect x="54.60" y="351.90" width="3.60" height="3.60" fill="none" stroke="#8cc49a" stroke-width="0.7"/>
<text x="71.2" y="357.50" class="tb">0.01 ppm</text>
<polygon points="58.40,367.00 57.40,368.73 55.40,368.73 54.40,367.00 55.40,365.27 57.40,365.27" fill="none" stroke="#f0b03c" stroke-width="0.7"/>
<text x="71.2" y="370.80" class="tb">0.02 ppm</text>
<polygon points="56.40,378.10 58.40,381.70 54.40,381.70" fill="none" stroke="#4d4b6b" stroke-width="0.7"/>
<text x="71.2" y="384.10" class="tb">0.04 ppm</text>
<polygon points="56.40,391.20 58.60,393.60 56.40,396.00 54.20,393.60" fill="none" stroke="#f28a80" stroke-width="0.7"/>
<text x="71.2" y="397.40" class="tb">0.06 ppm</text>
<rect x="320.5" y="244.5" width="224.9" height="164.5" fill="none" stroke="#333" stroke-width="1.25"/>
<text x="319.8" y="247.80" class="tc" text-anchor="end">0.4</text>
<text x="319.8" y="280.60" class="tc" text-anchor="end">0.3</text>
<text x="319.8" y="313.40" class="tc" text-anchor="end">0.2</text>
<text x="319.8" y="346.20" class="tc" text-anchor="end">0.1</text>
<text x="319.8" y="379.00" class="tc" text-anchor="end">0.0</text>
<text x="319.8" y="411.80" class="tc" text-anchor="end">-0.1</text>
<text x="332.10" y="418" class="tc" text-anchor="middle">0.00</text>
<text x="379.35" y="418" class="tc" text-anchor="middle">0.02</text>
<text x="426.60" y="418" class="tc" text-anchor="middle">0.04</text>
<text x="473.85" y="418" class="tc" text-anchor="middle">0.06</text>
<text x="521.10" y="418" class="tc" text-anchor="middle">0.08</text>
<text x="432.2" y="430.3" class="tc" text-anchor="middle" style="font-size:11.3px">Concentration (ppm)</text>
<text transform="translate(288.3,334.5) rotate(-90)" class="tc" text-anchor="middle" style="font-size:11.2px">Color ratio variation</text>
<path d="M332.10,375.80 L355.80,375.80 L379.30,375.80 L426.80,375.80 L474.20,376.10" fill="none" stroke="#999999" stroke-width="0.7"/>
<path d="M332.10,375.80 L355.80,373.40 L379.30,374.30 L426.80,371.80 L474.20,374.10" fill="none" stroke="#ff9090" stroke-width="0.7"/>
<path d="M332.10,375.80 L355.80,371.00 L379.30,364.20 L426.80,366.60 L474.20,361.80" fill="none" stroke="#8080ff" stroke-width="0.7"/>
<path d="M332.10,375.80 L355.80,365.00 L379.30,360.20 L426.80,352.30 L474.20,350.70" fill="none" stroke="#ff80ff" stroke-width="0.7"/>
<path d="M332.10,375.80 L355.80,370.00 L379.30,355.00 L426.80,346.40 L474.20,327.50" fill="none" stroke="#60a060" stroke-width="0.7"/>
<path d="M332.10,375.80 L355.80,363.90 L379.30,349.90 L426.80,334.20 L474.20,315.10" fill="none" stroke="#5060a0" stroke-width="0.7"/>
<path d="M332.10,375.80 L355.80,356.00 L379.30,345.00 L426.80,319.40 L474.20,296.10" fill="none" stroke="#c080ff" stroke-width="0.7"/>
<path d="M332.10,375.80 L355.80,354.10 L379.30,338.20 L426.80,312.90 L474.20,288.20" fill="none" stroke="#a060a0" stroke-width="0.7"/>
<path d="M332.10,375.80 L355.80,346.20 L379.30,327.20 L426.80,303.40 L474.20,279.20" fill="none" stroke="#c06060" stroke-width="0.7"/>
<path d="M332.10,375.80 L355.80,341.50 L379.30,322.60 L426.80,297.00 L474.20,268.80" fill="none" stroke="#a8ae88" stroke-width="0.7"/>
<path d="M332.10,375.80 L355.80,342.80 L379.30,324.80 L426.80,297.30 L474.20,274.90" fill="none" stroke="#6080d0" stroke-width="0.7"/>
<rect x="329.65" y="373.35" width="4.90" height="4.90" fill="#111111"/>
<rect x="353.35" y="373.35" width="4.90" height="4.90" fill="#111111"/>
<rect x="376.85" y="373.35" width="4.90" height="4.90" fill="#111111"/>
<rect x="424.35" y="373.35" width="4.90" height="4.90" fill="#111111"/>
<rect x="471.75" y="373.65" width="4.90" height="4.90" fill="#111111"/>
<circle cx="332.10" cy="375.80" r="2.45" fill="#ee1111"/>
<circle cx="355.80" cy="373.40" r="2.45" fill="#ee1111"/>
<circle cx="379.30" cy="374.30" r="2.45" fill="#ee1111"/>
<circle cx="426.80" cy="371.80" r="2.45" fill="#ee1111"/>
<circle cx="474.20" cy="374.10" r="2.45" fill="#ee1111"/>
<polygon points="332.10,372.98 334.80,377.76 329.41,377.76" fill="#2020ee"/>
<polygon points="355.80,368.18 358.50,372.96 353.11,372.96" fill="#2020ee"/>
<polygon points="379.30,361.38 382.00,366.16 376.61,366.16" fill="#2020ee"/>
<polygon points="426.80,363.78 429.50,368.56 424.11,368.56" fill="#2020ee"/>
<polygon points="474.20,358.98 476.89,363.76 471.50,363.76" fill="#2020ee"/>
<polygon points="332.10,378.62 334.80,373.84 329.41,373.84" fill="#ee10ee"/>
<polygon points="355.80,367.82 358.50,363.04 353.11,363.04" fill="#ee10ee"/>
<polygon points="379.30,363.02 382.00,358.24 376.61,358.24" fill="#ee10ee"/>
<polygon points="426.80,355.12 429.50,350.34 424.11,350.34" fill="#ee10ee"/>
<polygon points="474.20,353.52 476.89,348.74 471.50,348.74" fill="#ee10ee"/>
<polygon points="332.10,372.74 334.92,375.80 332.10,378.86 329.28,375.80" fill="#118811"/>
<polygon points="355.80,366.94 358.62,370.00 355.80,373.06 352.98,370.00" fill="#118811"/>
<polygon points="379.30,351.94 382.12,355.00 379.30,358.06 376.48,355.00" fill="#118811"/>
<polygon points="426.80,343.34 429.62,346.40 426.80,349.46 423.98,346.40" fill="#118811"/>
<polygon points="474.20,324.44 477.02,327.50 474.20,330.56 471.38,327.50" fill="#118811"/>
<polygon points="329.28,375.80 334.06,373.11 334.06,378.50" fill="#101080"/>
<polygon points="352.98,363.90 357.76,361.20 357.76,366.59" fill="#101080"/>
<polygon points="376.48,349.90 381.26,347.20 381.26,352.59" fill="#101080"/>
<polygon points="423.98,334.20 428.76,331.50 428.76,336.89" fill="#101080"/>
<polygon points="471.38,315.10 476.16,312.41 476.16,317.80" fill="#101080"/>
<polygon points="334.92,375.80 330.14,373.11 330.14,378.50" fill="#8020e0"/>
<polygon points="358.62,356.00 353.84,353.31 353.84,358.69" fill="#8020e0"/>
<polygon points="382.12,345.00 377.34,342.31 377.34,347.69" fill="#8020e0"/>
<polygon points="429.62,319.40 424.84,316.70 424.84,322.09" fill="#8020e0"/>
<polygon points="477.02,296.10 472.24,293.41 472.24,298.80" fill="#8020e0"/>
<circle cx="332.10" cy="375.80" r="2.45" fill="#802080"/>
<circle cx="355.80" cy="354.10" r="2.45" fill="#802080"/>
<circle cx="379.30" cy="338.20" r="2.45" fill="#802080"/>
<circle cx="426.80" cy="312.90" r="2.45" fill="#802080"/>
<circle cx="474.20" cy="288.20" r="2.45" fill="#802080"/>
<polygon points="332.10,372.86 332.82,374.81 334.90,374.89 333.27,376.18 333.83,378.18 332.10,377.03 330.37,378.18 330.93,376.18 329.30,374.89 331.38,374.81" fill="#801818"/>
<polygon points="355.80,343.26 356.52,345.21 358.60,345.29 356.97,346.58 357.53,348.58 355.80,347.43 354.07,348.58 354.63,346.58 353.00,345.29 355.08,345.21" fill="#801818"/>
<polygon points="379.30,324.26 380.02,326.21 382.10,326.29 380.47,327.58 381.03,329.58 379.30,328.43 377.57,329.58 378.13,327.58 376.50,326.29 378.58,326.21" fill="#801818"/>
<polygon points="426.80,300.46 427.52,302.41 429.60,302.49 427.97,303.78 428.53,305.78 426.80,304.62 425.07,305.78 425.63,303.78 424.00,302.49 426.08,302.41" fill="#801818"/>
<polygon points="474.20,276.26 474.92,278.21 477.00,278.29 475.37,279.58 475.93,281.58 474.20,280.43 472.47,281.58 473.03,279.58 471.40,278.29 473.48,278.21" fill="#801818"/>
<polygon points="332.10,373.11 334.66,374.97 333.68,377.98 330.52,377.98 329.54,374.97" fill="#688a68"/>
<polygon points="355.80,338.81 358.36,340.67 357.38,343.68 354.22,343.68 353.24,340.67" fill="#688a68"/>
<polygon points="379.30,319.91 381.86,321.77 380.88,324.78 377.72,324.78 376.74,321.77" fill="#688a68"/>
<polygon points="426.80,294.31 429.36,296.17 428.38,299.18 425.22,299.18 424.24,296.17" fill="#688a68"/>
<polygon points="474.20,266.11 476.76,267.97 475.78,270.98 472.62,270.98 471.64,267.97" fill="#688a68"/>
<circle cx="332.10" cy="375.80" r="2.45" fill="#3060c0" stroke="#1a3f8a" stroke-width="0.5"/><circle cx="331.50" cy="375.20" r="0.98" fill="#cfe0ff"/>
<circle cx="355.80" cy="342.80" r="2.45" fill="#3060c0" stroke="#1a3f8a" stroke-width="0.5"/><circle cx="355.20" cy="342.20" r="0.98" fill="#cfe0ff"/>
<circle cx="379.30" cy="324.80" r="2.45" fill="#3060c0" stroke="#1a3f8a" stroke-width="0.5"/><circle cx="378.70" cy="324.20" r="0.98" fill="#cfe0ff"/>
<circle cx="426.80" cy="297.30" r="2.45" fill="#3060c0" stroke="#1a3f8a" stroke-width="0.5"/><circle cx="426.20" cy="296.70" r="0.98" fill="#cfe0ff"/>
<circle cx="474.20" cy="274.90" r="2.45" fill="#3060c0" stroke="#1a3f8a" stroke-width="0.5"/><circle cx="473.60" cy="274.30" r="0.98" fill="#cfe0ff"/>
<polygon points="416.9,295.1 477.4,261 477.4,276.6 416.9,310.6" fill="#5c84ca" fill-opacity="0.62"/>
<polygon points="416.4,312 477,278.3 477,347.6 416.4,347.6" fill="#6cb05a" fill-opacity="0.55"/>
<rect x="416.4" y="349.4" width="60.6" height="29.3" fill="#df8c52" fill-opacity="0.62"/>
<line x1="491" y1="269.20" x2="511" y2="269.20" stroke="#999999" stroke-width="0.7"/>
<rect x="499.20" y="267.30" width="3.80" height="3.80" fill="#111111"/>
<text x="513.3" y="272.30" class="tl">0 min</text>
<line x1="491" y1="280.10" x2="511" y2="280.10" stroke="#ff9090" stroke-width="0.7"/>
<circle cx="501.10" cy="280.10" r="1.90" fill="#ee1111"/>
<text x="513.3" y="283.20" class="tl">2 min</text>
<line x1="491" y1="291.00" x2="511" y2="291.00" stroke="#8080ff" stroke-width="0.7"/>
<polygon points="501.10,288.81 503.19,292.52 499.01,292.52" fill="#2020ee"/>
<text x="513.3" y="294.10" class="tl">4 min</text>
<line x1="491" y1="301.90" x2="511" y2="301.90" stroke="#ff80ff" stroke-width="0.7"/>
<polygon points="501.10,304.08 503.19,300.38 499.01,300.38" fill="#ee10ee"/>
<text x="515.8" y="305.00" class="tl">6 min</text>
<line x1="491" y1="312.80" x2="511" y2="312.80" stroke="#60a060" stroke-width="0.7"/>
<polygon points="501.10,310.43 503.29,312.80 501.10,315.18 498.92,312.80" fill="#118811"/>
<text x="513.3" y="315.90" class="tl">8 min</text>
<line x1="491" y1="323.70" x2="511" y2="323.70" stroke="#5060a0" stroke-width="0.7"/>
<polygon points="498.92,323.70 502.62,321.61 502.62,325.79" fill="#101080"/>
<text x="513.3" y="326.80" class="tl">10 min</text>
<line x1="491" y1="334.60" x2="511" y2="334.60" stroke="#c080ff" stroke-width="0.7"/>
<polygon points="503.29,334.60 499.58,332.51 499.58,336.69" fill="#8020e0"/>
<text x="513.3" y="337.70" class="tl">12 min</text>
<line x1="491" y1="345.50" x2="511" y2="345.50" stroke="#a060a0" stroke-width="0.7"/>
<circle cx="501.10" cy="345.50" r="1.90" fill="#802080"/>
<text x="513.3" y="348.60" class="tl">14 min</text>
<line x1="491" y1="356.40" x2="511" y2="356.40" stroke="#c06060" stroke-width="0.7"/>
<polygon points="501.10,354.12 501.66,355.63 503.27,355.70 502.00,356.69 502.44,358.24 501.10,357.35 499.76,358.24 500.20,356.69 498.93,355.70 500.54,355.63" fill="#801818"/>
<text x="513.3" y="359.50" class="tl">16 min</text>
<line x1="491" y1="367.30" x2="511" y2="367.30" stroke="#a8ae88" stroke-width="0.7"/>
<polygon points="501.10,365.21 503.09,366.65 502.33,368.99 499.87,368.99 499.11,366.65" fill="#688a68"/>
<text x="513.3" y="370.40" class="tl">18 min</text>
<line x1="491" y1="378.20" x2="511" y2="378.20" stroke="#6080d0" stroke-width="0.7"/>
<circle cx="501.10" cy="378.20" r="1.90" fill="#3060c0" stroke="#1a3f8a" stroke-width="0.5"/><circle cx="500.50" cy="377.60" r="0.76" fill="#cfe0ff"/>
<text x="513.3" y="381.30" class="tl">20 min</text>
<rect x="486" y="260.2" width="55.8" height="45.8" fill="#df8c52" fill-opacity="0.62"/>
<rect x="486" y="307.2" width="55.8" height="43.5" fill="#6cb05a" fill-opacity="0.55"/>
<rect x="486" y="352" width="55.8" height="31.3" fill="#5c84ca" fill-opacity="0.62"/>
<text x="268.1" y="232.8" class="capp">（</text>
<text x="284.8" y="234.2" class="capl">a</text>
<text x="294.4" y="232.8" class="capp">）</text>
<text x="118.4" y="457.0" class="capp">（</text>
<text x="136.1" y="459.3" class="capl">b</text>
<text x="145.6" y="457.0" class="capp">）</text>
<text x="405.9" y="453.4" class="capp">（</text>
<text x="422.3" y="454.8" class="capl">c</text>
<text x="432.5" y="453.4" class="capp">）</text>
</svg>
</body></html>
